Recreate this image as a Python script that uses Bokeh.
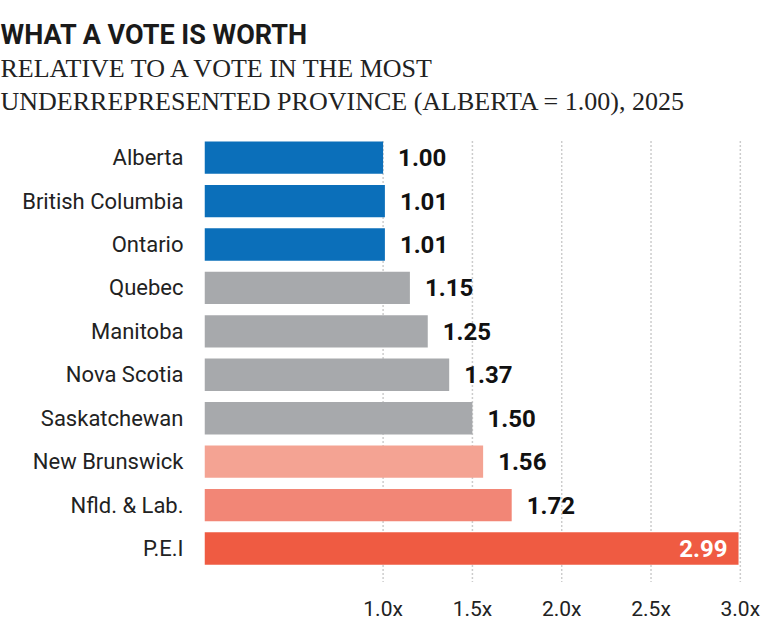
from bokeh.plotting import figure
from bokeh.models import Range1d, FixedTicker, PrintfTickFormatter, ColumnDataSource, Title
from bokeh.core.properties import value
from bokeh.embed import file_html
from bokeh.resources import INLINE

# ---- data ----
provinces = ["Alberta", "British Columbia", "Ontario", "Quebec", "Manitoba",
             "Nova Scotia", "Saskatchewan", "New Brunswick", "Nfld. & Lab.", "P.E.I"]
ratios = [1.00, 1.01, 1.01, 1.15, 1.25, 1.37, 1.50, 1.56, 1.72, 2.99]
tiers = ["under", "under", "under", "mid", "mid", "mid", "mid", "over1", "over2", "over3"]
x_ticks = [1.0, 1.5, 2.0, 2.5, 3.0]
title_text = "WHAT A VOTE IS WORTH"
subtitle_lines = ["RELATIVE TO A VOTE IN THE MOST",
                  "UNDERREPRESENTED PROVINCE (ALBERTA = 1.00), 2025"]

# ---- styles ----
tier_colors = {"under": "#0b6fba", "mid": "#a7a9ac", "over1": "#f4a393",
               "over2": "#f28676", "over3": "#ef5b42"}
SANS = "Roboto"
SERIF = "Liberation Serif"
BAR_H = 0.745

idx = list(range(len(provinces)))
labels = ["%.2f" % r for r in ratios]
colors = [tier_colors[t] for t in tiers]

src = ColumnDataSource(dict(y=idx, r=ratios, c=colors, lab=labels))
inside = [i for i in idx if ratios[i] > 2.5]
outside = [i for i in idx if ratios[i] <= 2.5]
src_out = ColumnDataSource(dict(y=[idx[i] for i in outside], r=[ratios[i] for i in outside],
                                lab=[labels[i] for i in outside]))
src_in = ColumnDataSource(dict(y=[idx[i] for i in inside], r=[ratios[i] for i in inside],
                               lab=[labels[i] for i in inside]))

p = figure(width=768, height=643, output_backend="svg", toolbar_location=None,
           x_range=Range1d(0, 3.057), y_range=Range1d(idx[-1] + 0.967, idx[0] - 0.925),
           min_border_left=204, min_border_right=18, min_border_bottom=53, min_border_top=0)
p.title = None
p.outline_line_color = None
p.background_fill_color = "white"
p.border_fill_color = "white"

# titles (added from nearest the plot outwards)
p.add_layout(Title(text=subtitle_lines[1], align="left", offset=-204, standoff=4,
                   text_font=SERIF, text_font_size="26px", text_font_style="normal",
                   text_color="#222222"), "above")
p.add_layout(Title(text=subtitle_lines[0], align="left", offset=-204, standoff=0,
                   text_font=SERIF, text_font_size="26px", text_font_style="normal",
                   text_color="#222222"), "above")
p.add_layout(Title(text=title_text, align="left", offset=-204, standoff=2,
                   text_font=SANS, text_font_size="27px", text_font_style="bold",
                   text_color="#1a1a1a"), "above")
p.add_layout(Title(text=" ", align="left", standoff=12, text_font_size="1px"), "above")

# grid lines (dotted), spanning the bars
p.xgrid.visible = False
p.ygrid.visible = False
p.segment(x0=x_ticks, x1=x_ticks,
          y0=[idx[0] - BAR_H / 2] * len(x_ticks), y1=[idx[-1] + BAR_H / 2 + 0.4] * len(x_ticks),
          line_color="#9a9a9a", line_dash="1 3", line_width=1.5)

# bars
p.hbar(y="y", left=0, right="r", height=BAR_H, color="c", line_color=None, source=src)

# value labels
p.text(x="r", y="y", text="lab", source=src_out, x_offset=15, text_align="left",
       text_baseline="middle", text_font=value(SANS), text_font_size="24px",
       text_font_style="bold", text_color="#111111")
p.text(x="r", y="y", text="lab", source=src_in, x_offset=-11, text_align="right",
       text_baseline="middle", text_font=value(SANS), text_font_size="24px",
       text_font_style="bold", text_color="white")

# axes
p.xaxis.ticker = FixedTicker(ticks=x_ticks)
p.xaxis.formatter = PrintfTickFormatter(format="%.1fx")
p.xaxis.axis_line_color = None
p.xaxis.major_tick_line_color = None
p.xaxis.minor_tick_line_color = None
p.xaxis.major_label_standoff = 0
p.xaxis.major_label_text_font = SANS
p.xaxis.major_label_text_font_size = "21px"
p.xaxis.major_label_text_color = "#222222"

p.yaxis.ticker = FixedTicker(ticks=idx)
p.yaxis.major_label_overrides = {i: name for i, name in zip(idx, provinces)}
p.yaxis.axis_line_color = None
p.yaxis.major_tick_line_color = None
p.yaxis.minor_tick_line_color = None
p.yaxis.major_label_standoff = 15
p.yaxis.major_label_text_font = SANS
p.yaxis.major_label_text_font_size = "22px"
p.yaxis.major_label_text_color = "#222222"

open("out.html", "w").write(file_html(p, INLINE))
